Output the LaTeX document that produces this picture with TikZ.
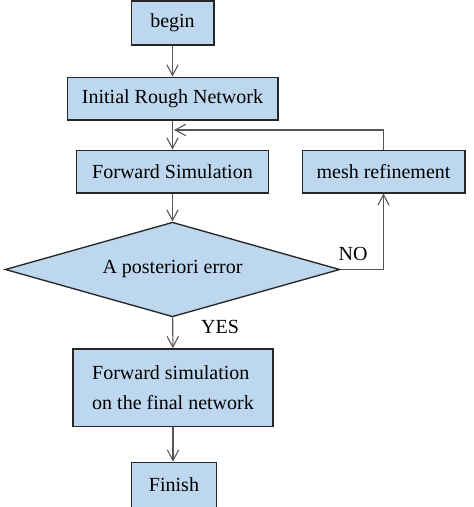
\documentclass[tikz,border=0pt]{standalone}
\usepackage{fontspec}
\setmainfont{Liberation Serif}
\usetikzlibrary{shapes.geometric,arrows.meta}
\definecolor{boxblue}{RGB}{189,215,238}
\definecolor{linegray}{RGB}{85,85,85}

\begin{document}
\begin{tikzpicture}[x=0.75pt, y=-0.75pt,
  every node/.style={font=\fontsize{15}{22}\selectfont},
  box/.style={draw=black!85, fill=boxblue, line width=1pt, rectangle, inner sep=0pt, align=center},
  arr/.style={draw=linegray, line width=0.8pt, -{Straight Barb[length=8pt,width=8.5pt]}}]
\useasboundingbox (0,0) rectangle (474,507);
% Caixas
\node[box, minimum width=62pt, minimum height=33pt] (begin) at (172.5,23) {begin};
\node[box, minimum width=158pt, minimum height=32pt] (init) at (172.5,98.5) {Initial Rough Network};
\node[box, minimum width=144pt, minimum height=32pt] (fwd) at (172.5,171.5) {Forward Simulation};
\node[box, minimum width=122pt, minimum height=32pt] (mesh) at (383.5,171.5) {mesh refinement};
\node[box, diamond, shape aspect=3.5, minimum width=251pt, minimum height=71pt] (err) at (172.5,269.5) {A posteriori error};
\node[box, minimum width=150pt, minimum height=58pt, align=left] (final) at (173,387.5) {Forward simulation\\on the final network};
\node[box, minimum width=64pt, minimum height=34pt] (fin) at (174,485) {Finish};
\coordinate (join) at (174,130);

% Setas
\draw[arr] (begin) -- (init);
\draw[arr] (init) -- (fwd);
\draw[arr] (fwd) -- (err);
\draw[arr] (err) -- (final);
\draw[arr] (final) -- (fin.north -| final);
\draw[arr] (err.east) -| (mesh);
\draw[arr] (mesh.north) |- (join);

% Rotulos
\node (yes) at (220,327) {YES};
\node (no) at (353,254) {NO};
\end{tikzpicture}
\end{document}
